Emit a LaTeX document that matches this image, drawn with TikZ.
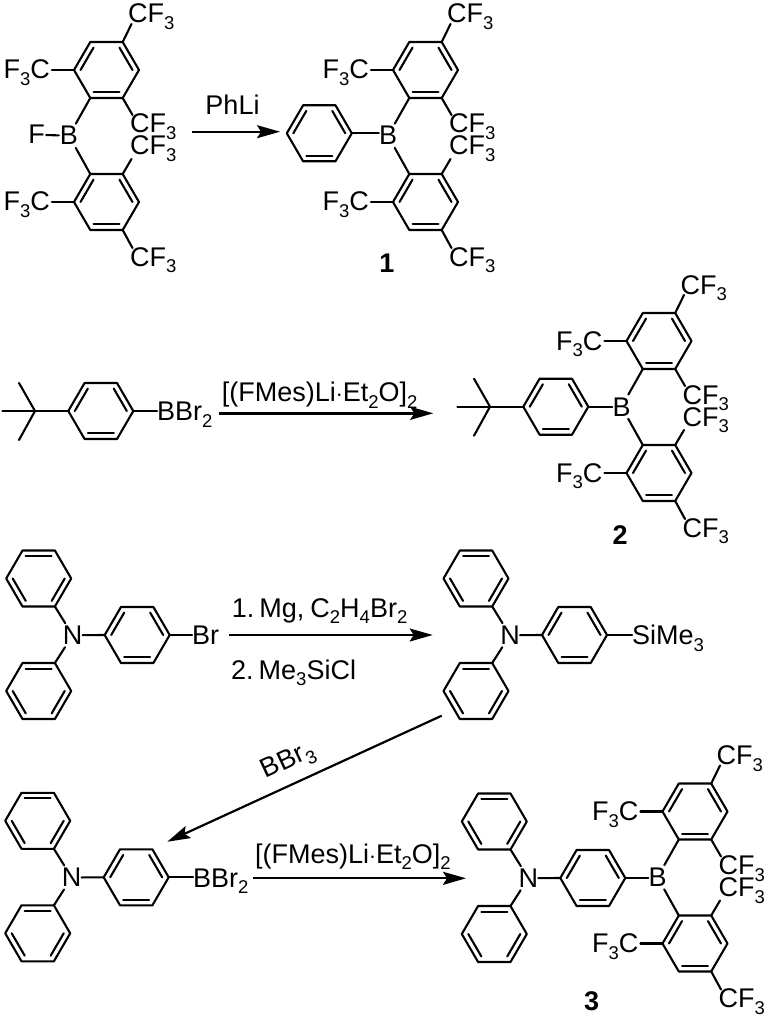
\documentclass[tikz,border=0pt]{standalone}
\usepackage{fontspec}
\setmainfont{Liberation Sans}
\usetikzlibrary{arrows.meta,calc}
\tikzset{
  x=1pt,y=-1pt,
  bond/.style={line width=2.1pt,line join=round,line cap=round},
  rxn/.style={line width=#1,-{Stealth[length=23pt,width=13pt,inset=4pt]}},
  lab/.style={inner sep=0pt,font=\fontsize{27}{27}\selectfont},
  cmpd/.style={inner sep=0pt,font=\fontsize{27}{27}\selectfont\bfseries},
}
\newcommand\chsub[1]{\raisebox{-6.5pt}{\fontsize{18.5}{18.5}\selectfont #1}}
\newcommand\hexring[3]{% name, x, y
  \begin{scope}[shift={(#2,#3)}]
    \coordinate (#1) at (0,0);
    \coordinate (#1v0) at (32.5,0);
    \coordinate (#1v1) at (16.2,-28);
    \coordinate (#1v2) at (-16.2,-28);
    \coordinate (#1v3) at (-32.5,0);
    \coordinate (#1v4) at (-16.2,28);
    \coordinate (#1v5) at (16.2,28);
    \draw[bond] (#1v0)--(#1v1)--(#1v2)--(#1v3)--(#1v4)--(#1v5)--cycle;
  \end{scope}}
\newcommand\dbl[3]{\draw[bond] ($(#1)!.8!(#1v#2)$) -- ($(#1)!.8!(#1v#3)$);}
\newcommand\ringA[3]{\hexring{#1}{#2}{#3}\dbl{#1}{2}{3}\dbl{#1}{0}{1}\dbl{#1}{4}{5}}
\newcommand\ringB[3]{\hexring{#1}{#2}{#3}\dbl{#1}{1}{2}\dbl{#1}{3}{4}\dbl{#1}{5}{0}}
\newcommand\fmes[3]{% name, ring centre x, mid y
  \begin{scope}[shift={(#2,#3)}]
    \ringA{#1u}{0}{-66}
    \ringA{#1l}{0}{66}
    \node[lab,anchor=base west] (#1a) at (21.5,-113) {CF\chsub{3}};
    \node[lab,anchor=base east] (#1f) at (-56.5,-57) {F\chsub{3}C};
    \node[lab,anchor=base west] (#1b) at (23.5,-3) {CF\chsub{3}};
    \node[lab,anchor=base west] (#1c) at (23.5,19) {CF\chsub{3}};
    \node[lab,anchor=base east] (#1g) at (-56.5,75) {F\chsub{3}C};
    \node[lab,anchor=base west] (#1d) at (23.5,130) {CF\chsub{3}};
    \node[lab,anchor=base] (#1B) at (-37.5,9) {B};
    \coordinate (#1ea) at (25,-112);
    \coordinate (#1eb) at (26,-21);
    \coordinate (#1ec) at (25,23);
    \coordinate (#1ed) at (26,112);
  \end{scope}
  \draw[bond] (#1uv1) -- (#1ea);
  \draw[bond] (#1uv5) -- (#1eb);
  \draw[bond] (#1lv1) -- (#1ec);
  \draw[bond] (#1lv5) -- (#1ed);
  \draw[bond,shorten >=2pt] (#1uv3) -- (#1f.east |- #1uv3);
  \draw[bond,shorten >=2pt] (#1lv3) -- (#1g.east |- #1lv3);
  \draw[bond,shorten >=3pt] (#1uv4) -- (#1B);
  \draw[bond,shorten >=3pt] (#1lv2) -- (#1B);
}
\newcommand\tpa[3]{% name, N x, N y
  \begin{scope}[shift={(#2,#3)}]
    \node[lab,anchor=base] (#1N) at (0,9.5) {N};
    \ringB{#1t}{-34}{-56.5}
    \ringB{#1b}{-34}{56}
    \ringA{#1m}{64.5}{0}
  \end{scope}
  \draw[bond,shorten >=3pt] (#1tv5) -- (#1N);
  \draw[bond,shorten >=3pt] (#1bv1) -- (#1N);
  \draw[bond] (#1N) -- (#1mv3);
}
\newcommand\tbu[3]{% name, quaternary C x, y
  \begin{scope}[shift={(#2,#3)}]
    \coordinate (#1q) at (0,0);
    \coordinate (#1e1) at (-32.5,0);
    \coordinate (#1e2) at (-16,-28);
    \coordinate (#1e3) at (-16,29);
    \ringA{#1r}{65.8}{0}
  \end{scope}
  \draw[bond] (#1q) -- (#1e1);
  \draw[bond] (#1q) -- (#1e2);
  \draw[bond] (#1q) -- (#1e3);
  \draw[bond] (#1q) -- (#1rv3);
}
\begin{document}
\begin{tikzpicture}
\useasboundingbox (0,0) rectangle (768,1019);

% --- first reaction
\fmes{a}{106.5}{136}
\node[lab,anchor=base] (aF) at (36.7,144) {F};
\draw[bond,shorten >=1pt,shorten <=1pt] (aF) -- (aB);
\coordinate (ar1s) at (192.3,131.7);
\coordinate (ar1e) at (280,131.7);
\draw[rxn=1.8pt] (ar1s) -- (ar1e);
\node[lab,anchor=base] (ar1t) at (232.5,115) {PhLi};
\ringA{ph}{319.3}{133.3}
\fmes{p}{425.5}{136}
\draw[bond] (phv0) -- (pB.west |- phv0);
\node[cmpd] (n1) at (387,263) {1};

% --- second reaction
\tbu{s}{35}{411}
\node[lab,anchor=base west] (sBr) at (157,420.5) {BBr\chsub{2}};
\draw[bond] (srv0) -- (sBr.west |- srv0);
\coordinate (ar2s) at (219.3,413.3);
\coordinate (ar2e) at (433.3,413.3);
\draw[rxn=2.8pt] (ar2s) -- (ar2e);
\node[lab,anchor=base west] (ar2t) at (221.7,401.7) {[(FMes)Li$\cdot$Et\chsub{2}O]\chsub{2}};
\tbu{t}{490}{406.7}
\fmes{q}{659}{407}
\draw[bond] (trv0) -- (qB.west |- trv0);
\node[cmpd] (n2) at (620,535) {2};

% --- third reaction
\tpa{u}{72.7}{635}
\node[lab,anchor=base west] (uBr) at (192,644.5) {Br};
\draw[bond] (umv0) -- (uBr.west |- umv0);
\coordinate (ar3s) at (229.3,635);
\coordinate (ar3e) at (432.7,635);
\draw[rxn=2pt] (ar3s) -- (ar3e);
\node[lab,anchor=base west] (ar3t) at (231.7,617.3) {1.\hspace{5pt}Mg,\hspace{6pt}C\chsub{2}H\chsub{4}Br\chsub{2}};
\node[lab,anchor=base west] (ar3b) at (231,679.3) {2.\hspace{5pt}Me\chsub{3}SiCl};
\tpa{v}{510}{635}
\node[lab,anchor=base west] (vSi) at (632,644.5) {SiMe\chsub{3}};
\draw[bond] (vmv0) -- (vSi.west |- vmv0);

% --- BBr3 step
\coordinate (ar4s) at (441.7,715.7);
\coordinate (ar4e) at (167.3,841.7);
\draw[rxn=2.2pt] (ar4s) -- (ar4e);
\node[lab,rotate=25] (ar4t) at (288.3,761.7) {BBr\chsub{3}};

% --- fourth reaction
\tpa{w}{71.7}{877.3}
\node[lab,anchor=base west] (wBr) at (193,887) {BBr\chsub{2}};
\draw[bond] (wmv0) -- (wBr.west |- wmv0);
\coordinate (ar5s) at (252.7,878.3);
\coordinate (ar5e) at (466,878.3);
\draw[rxn=2.2pt] (ar5s) -- (ar5e);
\node[lab,anchor=base west] (ar5t) at (255,863.3) {[(FMes)Li$\cdot$Et\chsub{2}O]\chsub{2}};
\tpa{y}{528.3}{878}
\fmes{z}{695}{877.5}
\draw[bond] (ymv0) -- (zB.west |- ymv0);
\node[cmpd] (n3) at (591.7,1001.7) {3};
\end{tikzpicture}
\end{document}
